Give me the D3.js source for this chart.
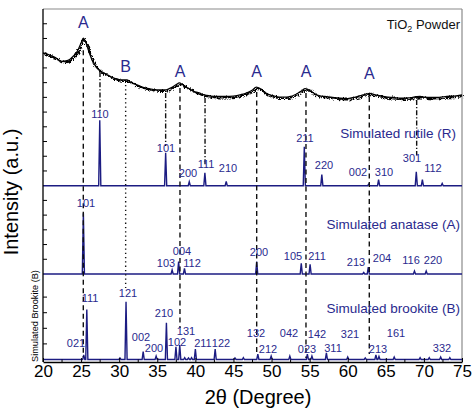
<!DOCTYPE html>
<html><head><meta charset="utf-8">
<script src="https://cdn.jsdelivr.net/npm/d3@7"></script>
<style>body{margin:0;background:#fff}svg{display:block}text{font-family:"Liberation Sans",Arial,sans-serif}</style>
</head><body><svg id="c" width="474" height="408"></svg>
<script>
// ---------- DATA ----------
const xTicks = [20,25,30,35,40,45,50,55,60,65,70,75];
// measured TiO2 powder pattern [2theta, intensity a.u. (stacked)]
const powder = [[20,15.01],[20.5,14.95],[21,14.84],[21.5,14.74],[22,14.57],[22.5,14.44],[23,14.47],[23.5,14.57],[24,14.81],[24.5,15.12],[25,15.69],[25.3,16.03],[25.6,15.76],[26,15.15],[26.5,14.47],[27,14.06],[27.5,13.82],[28,13.65],[28.5,13.52],[29,13.38],[29.5,13.28],[30,13.21],[30.5,13.18],[31,13.18],[31.5,13.04],[32,12.91],[32.5,12.81],[33,12.70],[33.5,12.64],[34,12.57],[34.5,12.53],[35,12.50],[35.5,12.50],[36,12.50],[36.5,12.57],[37,12.70],[37.5,12.87],[37.9,12.98],[38.3,12.87],[38.8,12.70],[39.5,12.50],[40,12.36],[40.5,12.30],[41,12.19],[41.5,12.13],[42,12.09],[43,12.06],[44,12.06],[45,12.09],[46,12.19],[46.5,12.26],[47,12.36],[47.5,12.50],[48,12.70],[48.5,12.60],[49,12.40],[49.5,12.23],[50,12.13],[50.5,12.06],[51,12.02],[52,12.02],[52.5,12.06],[53,12.16],[53.5,12.30],[54,12.47],[54.4,12.60],[54.8,12.53],[55.3,12.36],[56,12.16],[56.5,12.09],[57,12.06],[58,11.99],[59,11.94],[60,11.92],[61,12.02],[61.5,12.09],[62,12.16],[62.5,12.23],[62.9,12.27],[63.5,12.19],[64,12.13],[65,12.04],[66,11.99],[67,11.94],[68,11.96],[69,12.04],[69.5,12.06],[70,12.02],[71,11.99],[72,12.00],[73,12.06],[74,12.09],[75,12.16]];

// simulated patterns [2theta, relative intensity, hkl]
const rutilePeaks = [[27.45,4.44,"110"],[36.1,2.24,"101"],[39.2,0.27,"200"],[41.25,0.88,"111"],[44.05,0.29,"210"],[54.3,2.65,"211"],[56.6,0.75,"220"],[62.75,0.1,"002"],[64.05,0.41,"310"],[69.0,0.95,"301"],[69.8,0.41,"112"],[72.4,0.15,""]];
const anatasePeaks = [[25.3,4.13,"101"],[36.95,0.27,"103"],[37.8,0.84,"004"],[38.57,0.39,"112"],[48.05,0.84,"200"],[53.9,0.73,"105"],[55.06,0.66,"211"],[62.1,0.1,"213"],[62.7,0.46,"204"],[68.76,0.2,"116"],[70.3,0.2,"220"]];
const brookitePeaks = [[25.35,0.3,"021"],[25.75,3.2,"111"],[30.1,0.1,""],[30.9,3.7,"121"],[33.15,0.5,"002"],[34.85,0.22,"200"],[36.2,2.36,"210"],[37.45,0.82,"102"],[37.95,0.93,"131"],[38.6,0.12,""],[39.1,0.1,""],[39.5,0.12,""],[40.0,0.67,"211"],[42.6,0.67,"122"],[45.2,0.1,""],[46.3,0.12,""],[48.2,0.35,"132"],[49.95,0.22,"212"],[52.4,0.22,"042"],[54.7,0.35,"023"],[55.3,0.22,"142"],[57.2,0.42,"311"],[60.0,0.16,"321"],[62.3,0.1,""],[63.7,0.29,"213"],[64.1,0.2,""],[66.1,0.16,"161"],[69.5,0.12,""],[70.7,0.12,""],[72.2,0.16,"332"],[73.4,0.12,""]];

// hkl label anchors [hkl, 2theta, intensity]
const rutileLabels = [["110",27.48,4.62],["101",36.15,2.31],["200",39.03,0.61],["111",41.4,1.22],["210",44.28,0.95],["211",54.39,2.99],["220",56.89,1.15],["002",61.35,0.68],["310",64.76,0.68],["301",68.44,1.63],["112",71.19,0.95]];
const anataseLabels = [["101",25.64,4.55],["004",38.25,1.29],["103",36.15,0.48],["112",39.56,0.48],["200",48.35,1.22],["105",52.82,0.95],["211",55.97,0.95],["213",61.09,0.54],["204",64.5,0.82],["116",68.31,0.68],["220",71.19,0.68]];
const brookiteLabels = [["021",24.33,0.8],["111",26.17,3.69],["121",31.16,4.0],["002",32.86,1.19],["200",34.57,0.48],["210",35.88,2.72],["102",37.59,0.87],["131",38.77,1.57],["211",41.0,0.8],["122",43.37,0.8],["132",47.96,1.44],["042",52.29,1.44],["142",55.97,1.38],["321",60.3,1.38],["161",66.34,1.44],["212",49.54,0.42],["023",54.66,0.42],["311",58.07,0.48],["213",63.97,0.42],["332",72.38,0.48]];

const phaseTitles = ["Simulated rutile (R)","Simulated anatase (A)","Simulated brookite (B)"];
const phaseTitleAt = [[74.2,3.26],[74.74,3.06],[74.74,2.98]];

// reference lines [2theta, kind, top (powder units), bottom panel, bottom value]
const guides = [[25.29,"A",15.2,"B",0.16],[27.48,"R",13.72,"U",10.94],[30.85,"B",12.84,"B",4.58],[36.1,"R",12.3,"U",8.7],[37.98,"A",12.64,"B",2.02],[41.27,"R",11.96,"U",7.4],[48.05,"A",12.36,"B",0.48],[54.52,"A",12.3,"B",0.1],[62.83,"A",12.02,"B",0.35],[69.05,"R",11.82,"U",8.08]];
const phaseMarks = [["A",25.29,16.71],["B",30.85,13.72],["A",37.98,13.38],["A",48.05,13.38],["A",54.52,13.38],["A",62.83,13.25]];

const upperTicks = [1,2,3,4,5,7,8,9,10,11,12,13,14,15,16,17];
const brookTicks = [1,2,3,4];
const rutileOffset = 6;

// ---------- DRAW ----------
const svg = d3.select("#c");
const L = 43, R = 462, T = 9, B = 362;
const navy = "#1c1c82", labelC = "#2a2a8e";
const x = d3.scaleLinear().domain([20,75]).range([L,R]);
const yU = d3.scaleLinear().domain([0,18]).range([274,274-18*14.72]);
const yB = d3.scaleLinear().domain([-0.16,5.5]).range([B,B-5.66*15.6]);

// noise-like texture filter for the measured trace (rendering effect only)
const defs = svg.append("defs");
const f = defs.append("filter").attr("id","grain").attr("filterUnits","userSpaceOnUse")
  .attr("x",0).attr("y",0).attr("width",474).attr("height",200);
f.append("feTurbulence").attr("type","turbulence").attr("baseFrequency","0.9 0.35").attr("numOctaves",2).attr("seed",7).attr("result","t");
f.append("feDisplacementMap").attr("in","SourceGraphic").attr("in2","t").attr("scale",4.5).attr("xChannelSelector","R").attr("yChannelSelector","G");

// frame
svg.append("line").attr("x1",L).attr("x2",R).attr("y1",T).attr("y2",T).attr("stroke","#8a8a8a").attr("stroke-width",1.2);
svg.append("line").attr("x1",R).attr("x2",R).attr("y1",T).attr("y2",B).attr("stroke","#8a8a8a").attr("stroke-width",1.2);

// left ticks
const gl = svg.append("g");
gl.selectAll("line.u").data(upperTicks).join("line").attr("x1",L).attr("x2",L+4).attr("y1",d=>yU(d)).attr("y2",d=>yU(d)).attr("stroke","#000").attr("stroke-width",1);
gl.selectAll("line.b").data(brookTicks).join("line").attr("x1",L).attr("x2",L+4).attr("y1",d=>yB(d)).attr("y2",d=>yB(d)).attr("stroke","#000").attr("stroke-width",1);

// simulated patterns
function peakPath(peaks){
  const pts=[[20,0]];
  peaks.slice().sort((a,b)=>a[0]-b[0]).forEach(p=>{pts.push([p[0]-0.14,0],[p[0],p[1]],[p[0]+0.14,0]);});
  pts.push([75,0]);
  return pts;
}
const lineU = off => d3.line().x(d=>x(d[0])).y(d=>yU(d[1]+off));
const lineB = d3.line().x(d=>x(d[0])).y(d=>yB(d[1]));
svg.append("path").attr("d",lineU(rutileOffset)(peakPath(rutilePeaks))).attr("fill","none").attr("stroke",navy).attr("stroke-width",1.4);
svg.append("path").attr("d",lineU(0)(peakPath(anatasePeaks))).attr("fill","none").attr("stroke",navy).attr("stroke-width",1.4);
svg.append("path").attr("d",lineB(peakPath(brookitePeaks))).attr("fill","none").attr("stroke",navy).attr("stroke-width",1.4);

// guides
const dash = {A:"5,3.5",R:"5,2,1.2,2",B:"1.3,3"};
svg.append("g").selectAll("line").data(guides).join("line")
  .attr("x1",d=>x(d[0])).attr("x2",d=>x(d[0]))
  .attr("y1",d=>yU(d[2])).attr("y2",d=>d[3]==="B"?yB(d[4]):yU(d[4]))
  .attr("stroke","#111").attr("stroke-width",1.4).attr("stroke-dasharray",d=>dash[d[1]]);

// powder
const pLine = d3.line().x(d=>x(d[0])).y(d=>yU(d[1])).curve(d3.curveMonotoneX)(powder);
svg.append("path").attr("d",pLine).attr("fill","none").attr("stroke","#000").attr("stroke-width",1.8).attr("filter","url(#grain)");
svg.append("path").attr("d",pLine).attr("fill","none").attr("stroke","#000").attr("stroke-width",1.3);

// hkl labels
function labels(arr, yf){
  svg.append("g").selectAll("text").data(arr).join("text")
    .attr("x",d=>x(d[1])).attr("y",d=>yf(d[2])).attr("text-anchor","middle")
    .attr("font-size",11).attr("fill",labelC).text(d=>d[0]);
}
labels(rutileLabels, v=>yU(v+rutileOffset));
labels(anataseLabels, v=>yU(v));
labels(brookiteLabels, v=>yB(v));

const titleY = [v=>yU(v+rutileOffset), v=>yU(v), v=>yB(v)];
phaseTitles.forEach((t,i)=>{
  svg.append("text").attr("x",x(phaseTitleAt[i][0])).attr("y",titleY[i](phaseTitleAt[i][1]))
    .attr("text-anchor","end").attr("font-size",13.5).attr("fill",labelC).text(t);
});

// phase marks
svg.append("g").selectAll("text").data(phaseMarks).join("text")
  .attr("x",d=>x(d[1])).attr("y",d=>yU(d[2])).attr("text-anchor","middle")
  .attr("font-size",16).attr("fill",labelC).text(d=>d[0]);

// TiO2 Powder
const tp = svg.append("text").attr("x",460).attr("y",29).attr("text-anchor","end").attr("font-size",13).attr("fill","#111");
tp.append("tspan").text("TiO");
tp.append("tspan").attr("font-size",9).attr("dy",3).text("2");
tp.append("tspan").attr("dy",-3).text(" Powder");

// x axis
const xa = d3.axisBottom(x).tickValues(xTicks).tickSizeInner(-4).tickSizeOuter(0).tickPadding(3);
const gx = svg.append("g").attr("transform",`translate(0,${B})`).call(xa);
gx.select(".domain").attr("stroke","#000").attr("stroke-width",1.3);
gx.selectAll(".tick text").attr("font-size",17).attr("fill","#000").attr("font-family","Liberation Sans, Arial, sans-serif");
gx.selectAll(".tick line").attr("stroke","#000");
const minor = d3.range(22.5,75,5);
svg.append("g").selectAll("line").data(minor).join("line").attr("x1",d=>x(d)).attr("x2",d=>x(d)).attr("y1",B).attr("y2",B-2.5).attr("stroke","#000");
// left axis line
svg.append("line").attr("x1",L).attr("x2",L).attr("y1",T).attr("y2",B).attr("stroke","#000").attr("stroke-width",1.3);

// axis titles
svg.append("text").attr("x",258).attr("y",404).attr("text-anchor","middle").attr("font-size",20).attr("fill","#000").text("2θ (Degree)");
svg.append("text").attr("transform","translate(18,192) rotate(-90)").attr("text-anchor","middle").attr("font-size",20).attr("fill","#000").text("Intensity (a.u.)");
svg.append("text").attr("transform","translate(38,362) rotate(-90)").attr("text-anchor","start").attr("font-size",9.2).attr("fill","#000").text("Simulated Brookite (B)");
</script></body></html>
